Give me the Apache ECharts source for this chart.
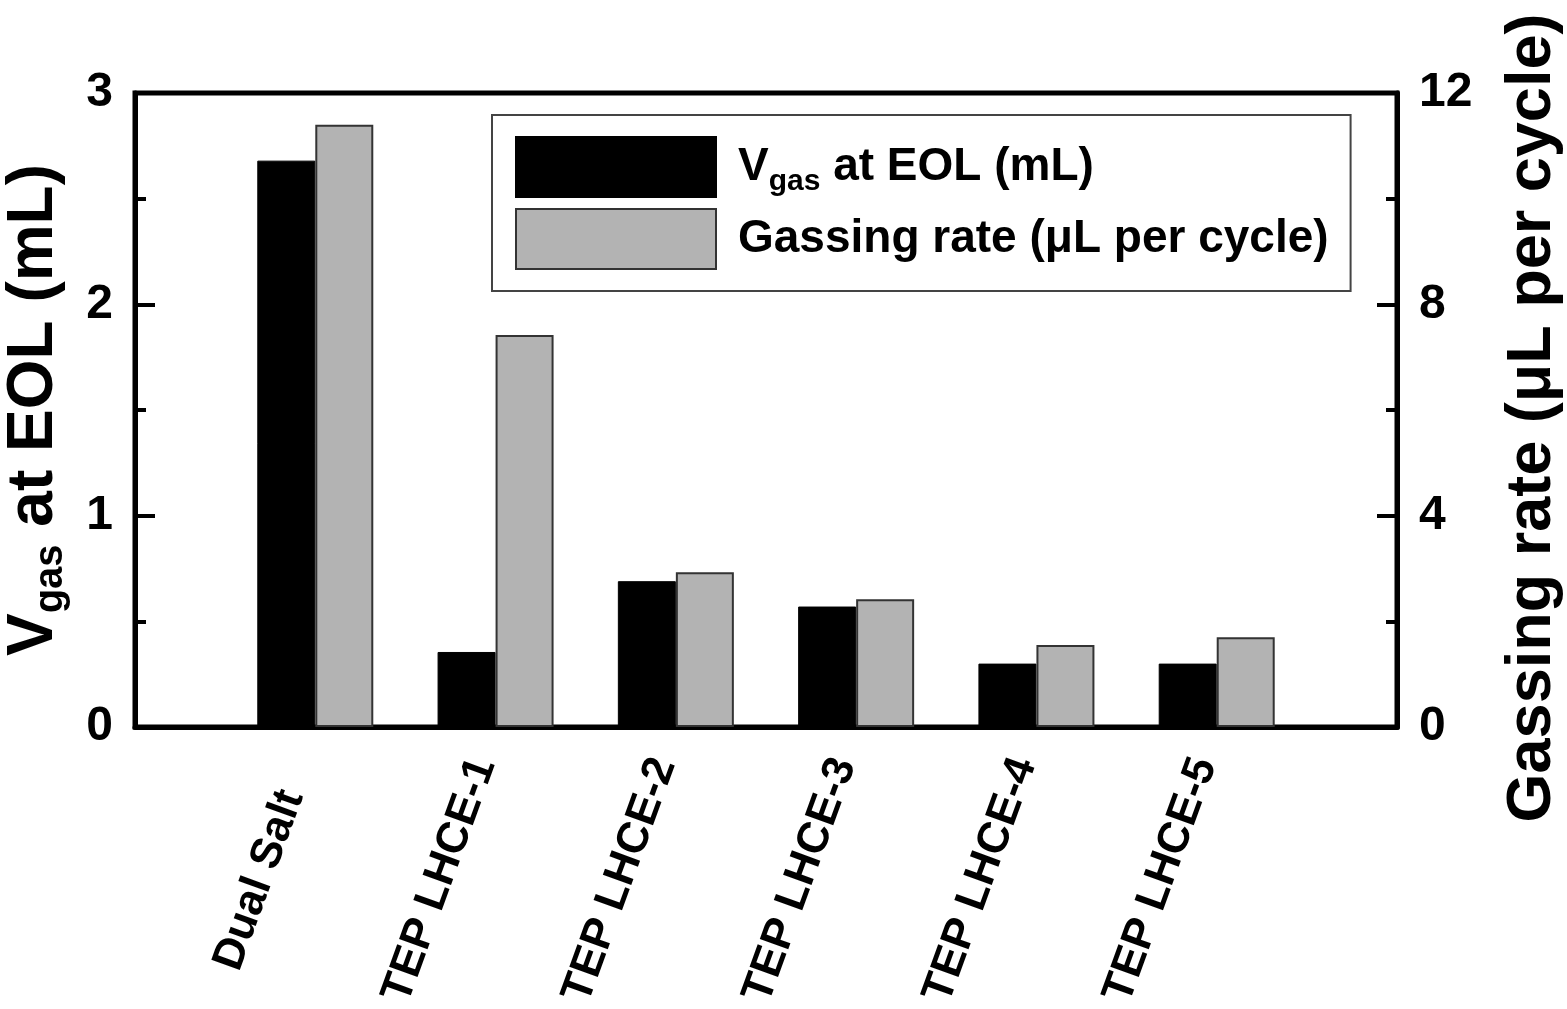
<!DOCTYPE html>
<html>
<head>
<meta charset="utf-8">
<script src="https://cdn.jsdelivr.net/npm/echarts@6/dist/echarts.min.js"></script>
<style>
  html, body { margin: 0; padding: 0; background: #fff; }
  #chart { width: 1567px; height: 1009px; }
</style>
</head>
<body>
<div id="chart"></div>
<script>
// electrolytes along the x axis
const categories = ['Dual Salt', 'TEP LHCE-1', 'TEP LHCE-2', 'TEP LHCE-3', 'TEP LHCE-4', 'TEP LHCE-5']
// V_gas at EOL (mL), left axis
const vgasEol = [2.68, 0.355, 0.69, 0.57, 0.30, 0.30]
// gassing rate (uL per cycle), right axis
const gassingRate = [11.4, 7.42, 2.93, 2.42, 1.55, 1.70]
const leftTicks = [0, 1, 2, 3]
const rightTicks = [0, 4, 8, 12]

const FONT = "'Liberation Sans', Arial, sans-serif"

// empty slot at each end so the groups sit where they do in the figure
const xData = [''].concat(categories, [''])
const pad = (arr) => ['-'].concat(arr, ['-'])

const chart = echarts.init(document.getElementById('chart'))

const yAxisBase = {
  type: 'value',
  nameLocation: 'middle',
  nameRotate: 90,
  axisLine: { show: true, lineStyle: { color: '#000', width: 5 } },
  axisTick: { show: true, inside: true, length: 20, lineStyle: { color: '#000', width: 4 } },
  minorTick: { show: true, splitNumber: 2, length: 11, lineStyle: { color: '#000', width: 4 } },
  splitLine: { show: false },
  axisLabel: { color: '#000', fontFamily: FONT, fontWeight: 'bold', fontSize: 48, margin: 22 }
}

chart.setOption({
  backgroundColor: '#fff',
  animation: false,
  grid: {
    left: 135, right: 170, top: 93, bottom: 282,
    outerBoundsMode: 'none',
    containLabel: false,
    show: true, borderColor: '#000', borderWidth: 5, backgroundColor: 'transparent'
  },
  legend: {
    left: 492, top: 115,
    orient: 'vertical',
    icon: 'rect',
    itemWidth: 200, itemHeight: 60, itemGap: 10,
    padding: [21, 22, 21, 23],
    borderColor: '#444', borderWidth: 2,
    textStyle: {
      color: '#000', fontFamily: FONT, fontWeight: 'bold', fontSize: 46,
      padding: [0, 0, 0, 17],
      rich: {
        m: { color: '#000', fontFamily: FONT, fontWeight: 'bold', fontSize: 46, lineHeight: 60 },
        sub: { color: '#000', fontFamily: FONT, fontWeight: 'bold', fontSize: 30, lineHeight: 30, verticalAlign: 'bottom' }
      }
    },
    formatter: (name) => {
      if (name === 'vgas') return '{m|V}{sub|gas}{m| at EOL (mL)}'
      return '{m|Gassing rate (μL per cycle)}'
    },
    data: ['vgas', 'rate']
  },
  xAxis: {
    type: 'category',
    data: xData,
    boundaryGap: false,
    axisLine: { show: true, lineStyle: { color: '#000', width: 5 } },
    axisTick: { show: false },
    splitLine: { show: false },
    axisLabel: {
      interval: 0, rotate: 70, margin: 0,
      align: 'center', verticalAlign: 'middle',
      // labels are centred on a point set back along the text direction
      padding: [0, 326, 40, 0],
      color: '#000', fontFamily: FONT, fontWeight: 'bold', fontSize: 44
    }
  },
  yAxis: [
    Object.assign({}, yAxisBase, {
      position: 'left', min: 0, max: 3, interval: 1,
      name: '{m|V}{sub|gas}{m| at EOL (mL)}',
      nameGap: 64,
      nameTextStyle: {
        rich: {
          m: { color: '#000', fontFamily: FONT, fontWeight: 'bold', fontSize: 64, lineHeight: 74 },
          sub: { color: '#000', fontFamily: FONT, fontWeight: 'bold', fontSize: 40, lineHeight: 40, verticalAlign: 'bottom' }
        }
      }
    }),
    Object.assign({}, yAxisBase, {
      position: 'right', min: 0, max: 12, interval: 4,
      name: 'Gassing rate (μL per cycle)',
      nameGap: 104,
      nameTextStyle: {
        color: '#000', fontFamily: FONT, fontWeight: 'bold', fontSize: 63,
        padding: [0, 16, 0, 0]
      }
    })
  ],
  series: [
    {
      name: 'vgas',
      type: 'bar',
      yAxisIndex: 0,
      data: pad(vgasEol),
      barWidth: 58,
      barGap: '0%',
      itemStyle: { color: '#000', borderColor: '#000', borderWidth: 1 }
    },
    {
      name: 'rate',
      type: 'bar',
      yAxisIndex: 1,
      data: pad(gassingRate),
      barWidth: 58,
      barGap: '0%',
      itemStyle: { color: '#b3b3b3', borderColor: '#333', borderWidth: 2 }
    }
  ]
})
</script>
</body>
</html>
